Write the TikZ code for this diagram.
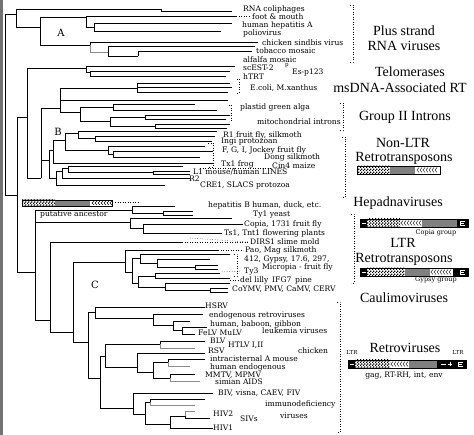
\documentclass[tikz,border=0pt]{standalone}
\usepackage{fontspec}
\setmainfont{DejaVu Serif}
\newfontfamily\catf{Liberation Serif}
\usetikzlibrary{patterns}
\pgfdeclarepatternformonly{finechk}{\pgfpointorigin}{\pgfqpoint{3pt}{3pt}}{\pgfqpoint{3pt}{3pt}}{%
  \pgfpathrectangle{\pgfpointorigin}{\pgfqpoint{1.5pt}{1.5pt}}%
  \pgfpathrectangle{\pgfqpoint{1.5pt}{1.5pt}}{\pgfqpoint{1.5pt}{1.5pt}}%
  \pgfusepath{fill}}
\begin{document}
\begin{tikzpicture}[x=1pt,y=-1pt,
  tl/.style={line width=0.95pt,black},
  tg/.style={line width=0.8pt,black!45},
  lab/.style={anchor=west,inner sep=0pt,font=\fontsize{7.6}{8}\selectfont},
  grp/.style={inner sep=0pt,font=\fontsize{6.5}{7}\selectfont},
  cat/.style={inner sep=0pt,font=\catf\fontsize{14}{15}\selectfont},
  sml/.style={inner sep=0pt,font=\fontsize{5.5}{6}\selectfont},
  dots/.style={dotted,line width=0.5pt},
]
\useasboundingbox (0,0) rectangle (474,435);
\fill[black!55] (0,0) rectangle (2.5,435);

% ---------------- coordinates ----------------
\coordinate (R) at (5,14);
\coordinate (T) at (16,14);
\coordinate (cp) at (161,9);
\coordinate (colp) at (232,11);
\coordinate (A) at (40,27);
\coordinate (a1) at (86,17);
\coordinate (foot) at (236,16);
\coordinate (a1b) at (94,27);
\coordinate (hepA) at (232,23);
\coordinate (polio) at (221,31);
\coordinate (a2) at (90,45);
\coordinate (sind) at (258,42);
\coordinate (a2b) at (108,52);
\coordinate (sind2) at (255,46);
\coordinate (a2c) at (138,56);
\coordinate (tob) at (252,51);
\coordinate (alf) at (238,60);

\coordinate (B0) at (17,195);
\coordinate (U) at (27,117);
\coordinate (Tel) at (86,68);
\coordinate (sc) at (235,66);
\coordinate (Tel2) at (90,72);
\coordinate (es) at (230,71);
\coordinate (tr) at (226,76);
\coordinate (V) at (41,178);
\coordinate (G) at (60,108);
\coordinate (ms) at (137,88);
\coordinate (e1) at (230,83);
\coordinate (e2) at (232,87);
\coordinate (e3) at (228,92);
\coordinate (pl) at (228,100);
\coordinate (g2) at (80,112);
\coordinate (ga) at (113,107);
\coordinate (gl1) at (195,104);
\coordinate (gl2) at (217,110);
\coordinate (gb) at (110,121);
\coordinate (gc) at (145,117);
\coordinate (gl3) at (230,115);
\coordinate (gl4) at (226,119);
\coordinate (gd) at (155,126);
\coordinate (gl5) at (230,124);
\coordinate (gl6) at (227,128);

\coordinate (NL) at (49,160);
\coordinate (n1) at (53,150);
\coordinate (tx) at (213,163);
\coordinate (n3) at (65,140);
\coordinate (n4) at (78,133);
\coordinate (r1) at (217,131);
\coordinate (n6) at (95,138);
\coordinate (ingi) at (215,136);
\coordinate (fg1) at (212,141);
\coordinate (n5) at (108,150);
\coordinate (fg2) at (205,146);
\coordinate (n7) at (113,154);
\coordinate (dong) at (213,151);
\coordinate (fg3) at (200,157);
\coordinate (n2) at (56,178);
\coordinate (n8) at (62,171);
\coordinate (n9) at (68,168);
\coordinate (cin) at (183,166);
\coordinate (n10) at (153,172);
\coordinate (l1a) at (190,171);
\coordinate (l1b) at (190,174);
\coordinate (r2) at (190,178);
\coordinate (cre) at (165,185);

\coordinate (C0) at (35,272);
\coordinate (hep) at (132,210);
\coordinate (h1) at (175,206);
\coordinate (h2) at (163,213);
\coordinate (h3) at (193,211);
\coordinate (h4) at (193,215);
\coordinate (ty) at (130,222);
\coordinate (ty1) at (232,218);
\coordinate (tc) at (143,228);
\coordinate (cop) at (243,224);
\coordinate (ts) at (222,233);
\coordinate (N50) at (50,320);
\coordinate (dirs) at (182,242);
\coordinate (N73) at (73,332);
\coordinate (gp) at (125,262);
\coordinate (pao) at (218,250);
\coordinate (gyp) at (132,272);
\coordinate (gA) at (140,258);
\coordinate (y1) at (230,254);
\coordinate (gA2) at (157,263);
\coordinate (y2) at (210,259);
\coordinate (gA3) at (195,267);
\coordinate (y3) at (218,265);
\coordinate (y4) at (218,269);
\coordinate (gB) at (138,283);
\coordinate (gB1) at (155,276);
\coordinate (y5) at (220,273);
\coordinate (y6) at (230,278);
\coordinate (gB2) at (165,287);
\coordinate (y7) at (230,283);
\coordinate (cau) at (210,290);
\coordinate (ca1) at (228,288);
\coordinate (ca2) at (228,292);

\coordinate (RV) at (88,342);
\coordinate (hs) at (95,312);
\coordinate (hsrv) at (205,307);
\coordinate (en) at (153,318);
\coordinate (enl) at (203,314);
\coordinate (en2) at (173,325);
\coordinate (enl2) at (190,321);
\coordinate (en3) at (182,330);
\coordinate (enl3) at (207,327);
\coordinate (enl4) at (195,334);
\coordinate (lo) at (100,378);
\coordinate (bl) at (105,356);
\coordinate (blv) at (160,344);
\coordinate (bl1) at (205,341);
\coordinate (bl2) at (195,348);
\coordinate (mm) at (137,367);
\coordinate (rsv) at (205,353);
\coordinate (mm2) at (153,372);
\coordinate (mm3) at (168,362);
\coordinate (ia) at (205,359);
\coordinate (he) at (190,366);
\coordinate (mm4) at (170,378);
\coordinate (mmtv) at (195,374);
\coordinate (sia) at (200,381);
\coordinate (lv) at (133,408);
\coordinate (biv) at (213,393);
\coordinate (lv2) at (145,414);
\coordinate (lv3) at (150,402);
\coordinate (v1) at (205,399);
\coordinate (v2) at (195,405);
\coordinate (lv4) at (170,424);
\coordinate (lv5) at (185,416);
\coordinate (siv) at (195,411);
\coordinate (hiv2) at (210,418);
\coordinate (hiv1) at (213,428);

% ---------------- branches ----------------
\foreach \p/\c in {R/T,T/cp,cp/colp,T/A,A/a1,A/a2,a1/foot,a1/a1b,a1b/hepA,a1b/polio,
  a2/sind,a2b/sind2,a2b/a2c,a2c/tob,
  R/B0,B0/U,B0/C0,U/Tel,Tel/sc,Tel/Tel2,Tel2/es,Tel2/tr,U/V,V/G,G/ms,ms/e1,ms/e2,ms/e3,
  G/pl,G/g2,g2/ga,ga/gl1,ga/gl2,g2/gb,gb/gc,gc/gl3,gc/gl4,gb/gd,gd/gl5,gd/gl6,
  V/NL,NL/n1,NL/n2,n1/n3,n1/tx,n3/n4,n3/n5,n4/r1,n4/n6,n6/ingi,n6/fg1,n5/fg2,n5/n7,n7/dong,n7/fg3,
  n2/n8,n2/cre,n8/n9,n8/r2,n9/cin,n9/n10,n10/l1a,n10/l1b,
  C0/hep,hep/h1,hep/h2,h2/h3,h2/h4,C0/ty,ty/ty1,ty/tc,tc/cop,tc/ts,C0/N50,N50/dirs,N50/N73,
  N73/gp,gp/pao,gp/gyp,gyp/gA,gyp/gB,gA/y1,gA/gA2,gA2/y2,gA2/gA3,gA3/y3,gA3/y4,
  gB/gB1,gB/gB2,gB1/y5,gB1/y6,gB2/y7,gB2/cau,cau/ca1,cau/ca2,
  N73/RV,RV/hs,RV/lo,hs/hsrv,hs/en,en/enl,en/en2,en2/enl2,en2/en3,en3/enl3,en3/enl4,
  lo/bl,lo/lv,bl/blv,bl/mm,blv/bl1,mm/rsv,mm/mm2,mm2/mm3,mm2/mm4,mm3/ia,mm4/mmtv,
  lv/biv,lv/lv2,lv2/lv3,lv2/lv4,lv3/v1,lv4/lv5,lv4/hiv1,lv5/hiv2}
  \draw[tl] (\p) |- (\c);
\foreach \p/\c in {a2/a2b,blv/bl2,mm3/he,mm4/sia,lv3/v2,lv5/siv}
  \draw[tg] (\p) |- (\c);

% ---------------- clade letters ----------------
\node[font=\fontsize{10}{10}\selectfont] (lA) at (61,33) {A};
\node[font=\fontsize{10}{10}\selectfont] (lB) at (58,132) {B};
\node[font=\fontsize{10}{10}\selectfont] (lC) at (95,285) {C};

% ---------------- leaf labels ----------------
\node[lab] (t1) at (243,9) {RNA coliphages};
\node[lab] (t2) at (252,17) {foot \& mouth};
\node[lab] (t3) at (242,25) {human hepatitis A};
\node[lab] (t4) at (243,33) {poliovirus};
\node[lab] (t5) at (262,43) {chicken sindbis virus};
\node[lab] (t6) at (256,51) {tobacco mosaic};
\node[lab] (t7) at (243,59.5) {alfalfa mosaic};
\node[lab] (t8) at (243,67.5) {scEST-2};
\node[sml] (t8p) at (287,66) {p};
\node[lab] (t9) at (292,72) {Es-p123};
\node[lab] (t10) at (243,76.5) {hTRT};
\node[lab] (t11) at (250,88) {E.coli, M.xanthus};
\node[lab] (t12) at (240,107) {plastid green alga};
\node[lab] (t13) at (257,122) {mitochondrial introns};
\node[lab] (t14) at (223,135) {R1 fruit fly, silkmoth};
\node[lab] (t15) at (221,142) {Ingi protozoan};
\node[lab] (t16) at (222,150) {F, G, I, Jockey fruit fly};
\node[lab] (t17) at (264,157) {Dong silkmoth};
\node[lab] (t18) at (221,164) {Tx1 frog};
\node[lab] (t19) at (272,166) {Cin4 maize};
\node[lab] (t20) at (193,172) {L1 mouse/human LINES};
\node[lab] (t21) at (189,178.5) {R2};
\node[lab] (t22) at (200,185) {CRE1, SLACS protozoa};
\node[lab] (t23) at (208,205) {hepatitis B human, duck, etc.};
\node[lab] (t24) at (40,214) {putative ancestor};
\node[lab] (t25) at (253,215) {Ty1 yeast};
\node[lab] (t26) at (244,224) {Copia, 1731 fruit fly};
\node[lab] (t27) at (224,233) {Ts1, Tnt1 flowering plants};
\node[lab] (t28) at (250,242) {DIRS1 slime mold};
\node[lab] (t29) at (245,250) {Pao, Mag silkmoth};
\node[lab] (t30) at (244,260) {412, Gypsy, 17.6, 297,};
\node[lab] (t31) at (262,267) {Micropia - fruit fly};
\node[lab] (t32) at (244,271.5) {Ty3};
\node[lab] (t33) at (240,280.5) {del lilly\enspace IFG7\enspace pine};
\node[lab] (t34) at (232,289.5) {CoYMV, PMV, CaMV, CERV};
\node[lab] (t35) at (205,306) {HSRV};
\node[lab] (t36) at (209,315) {endogenous retroviruses};
\node[lab] (t37) at (210,324) {human, baboon, gibbon};
\node[lab] (t38) at (198,333) {FeLV MuLV};
\node[lab] (t39) at (262,331) {leukemia viruses};
\node[lab] (t40) at (210,340.5) {BLV};
\node[lab] (t41) at (228,345) {HTLV I,II};
\node[lab] (t42) at (208,350.5) {RSV};
\node[lab] (t43) at (298,351) {chicken};
\node[lab] (t44) at (210,359) {intracisternal A mouse};
\node[lab] (t45) at (210,367) {human endogenous};
\node[lab] (t46) at (205,375) {MMTV, MPMV};
\node[lab] (t47) at (215,382) {simian AIDS};
\node[lab] (t48) at (218,393) {BIV, visna, CAEV, FIV};
\node[lab] (t49) at (265,404) {immunodeficiency};
\node[lab] (t50) at (213,414) {HIV2};
\node[lab] (t51) at (240,419) {SIVs};
\node[lab] (t52) at (280,416) {viruses};
\node[lab] (t53) at (213,427.5) {HIV1};

% leaders and small brackets
\draw[dots] (foot) -- (250,16);
\draw[dots] (237,79) -- (239,79) -- (239,93) -- (237,93);
\draw[dots] (229,105) -- (231,105) -- (231,121) -- (229,121);
\draw[dots] (208,143) -- (213,143) -- (213,167) -- (208,167);
\draw[dots] (200,168.5) -- (272,168.5);
\draw[dots] (115,202) -- (140,202);
\draw[dots] (190,238) -- (248,242);
\draw[dots] (dirs) -- (248,242);
\draw[dots] (pao) -- (243,250);
\draw[dots] (234,254) -- (237,254) -- (237,276) -- (234,276);
\draw[dots] (222,272) -- (242,271);
\draw[dots] (230,280) -- (238,280);

% right-hand brackets
\draw[dots] (350,5) -- (353,5) -- (353,62) -- (350,62);
\draw[dots] (340,103) -- (343,103) -- (343,130) -- (340,130);
\draw[dots] (342,137) -- (345,137) -- (345,197) -- (342,197);
\draw[dots] (351,214) -- (354,214) -- (354,283) -- (351,283);
\draw[dots] (337,302) -- (340,302) -- (340,432) -- (337,432);

% ---------------- category labels ----------------
\node[cat] (c1) at (404,31) {Plus strand};
\node[cat] (c2) at (404,46) {RNA viruses};
\node[cat] (c3) at (410,72) {Telomerases};
\node[cat] (c4) at (400,88) {msDNA-Associated RT};
\node[cat] (c5) at (405,117) {Group II Introns};
\node[cat] (c6) at (403,143) {Non-LTR};
\node[cat] (c7) at (404,158) {Retrotransposons};
\node[cat] (c8) at (398,203) {Hepadnaviruses};
\node[cat] (c9) at (403,243) {LTR};
\node[cat] (c10) at (404,259) {Retrotransposons};
\node[cat] (c11) at (404,298) {Caulimoviruses};
\node[cat] (c12) at (405,348) {Retroviruses};
\node[grp] (c13) at (436,233) {Copia group};
\node[grp] (c14) at (436,280) {Gypsy group};
\node[sml] (c15) at (352,352) {LTR};
\node[sml] (c16) at (458,352) {LTR};
\node[lab,anchor=center] (c17) at (404,376) {gag, RT-RH, int, env};

% ---------------- gene bars ----------------
% ancestor bar
\fill[pattern=finechk] (22,200) rectangle (55,206);
\fill[black!50] (55,200) rectangle (90,206);
\foreach \k in {0,...,6} \draw[line width=0.4pt] ({92+3*\k+2},201) -- ({92+3*\k},203) -- ({92+3*\k+2},205);
\draw[line width=0.8pt] (22,200) rectangle (112,206);
% non-LTR bar
\fill[pattern=finechk] (357,166) rectangle (390,174);
\fill[black!50] (390,166) rectangle (415,174);
\foreach \k in {0,...,6} \draw[line width=0.4pt] ({417+3*\k+2},167.5) -- ({417+3*\k},170) -- ({417+3*\k+2},172.5);
\draw[line width=0.8pt] (357,166) rectangle (440,174);
% copia bar
\fill[pattern=finechk] (367,219) rectangle (400,227);
\foreach \k in {0,...,6} \draw[line width=0.4pt] ({401+3*\k+2},220.5) -- ({401+3*\k},223) -- ({401+3*\k+2},225.5);
\fill[black!50] (422,219) rectangle (457,227);
\fill (360,219) rectangle (367,227);
\fill (457,219) rectangle (468,227);
\draw[white,line width=0.6pt] (362,223) -- (366,223) (460,221) -- (460,225) -- (465,225) (460,223) -- (464,223) (460,221) -- (465,221);
\draw[line width=0.8pt] (360,219) rectangle (468,227);
% gypsy bar
\fill[pattern=finechk] (367,268) rectangle (405,276);
\fill[black!50] (405,268) rectangle (430,276);
\foreach \k in {0,...,6} \draw[line width=0.4pt] ({431+3*\k+2},269.5) -- ({431+3*\k},272) -- ({431+3*\k+2},274.5);
\fill (360,268) rectangle (367,276);
\fill (453,268) rectangle (468,276);
\draw[white,line width=0.6pt] (362,272) -- (366,272) (460,270) -- (460,274) -- (465,274) (460,272) -- (464,272) (460,270) -- (465,270);
\draw[line width=0.8pt] (360,268) rectangle (468,276);
% retrovirus bar
\fill[pattern=finechk] (355,360) rectangle (390,368);
\foreach \k in {0,...,5} \draw[line width=0.4pt] ({391+3*\k+2},361.5) -- ({391+3*\k},364) -- ({391+3*\k+2},366.5);
\fill[black!50] (409,360) rectangle (437,368);
\fill (348,360) rectangle (355,368);
\fill (437,360) rectangle (466,368);
\draw[white,line width=0.6pt] (350,364) -- (354,364) (441,364) -- (446,364) (450,362) -- (450,366) (448,364) -- (452,364) (458,362) -- (458,366) -- (463,366) (458,364) -- (462,364) (458,362) -- (463,362);
\draw[line width=0.8pt] (348,360) rectangle (466,368);
\end{tikzpicture}
\end{document}
